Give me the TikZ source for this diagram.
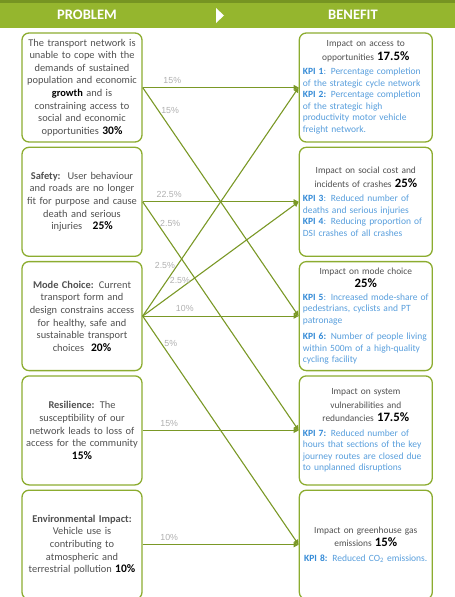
\documentclass[tikz,border=0pt]{standalone}
\usepackage{fontspec}
\setmainfont{Carlito}
\newfontfamily\pctfont{Liberation Sans}
\definecolor{HeadGreen}{RGB}{149,182,46}
\definecolor{HeadDark}{RGB}{118,148,34}
\definecolor{BoxGreen}{RGB}{140,172,48}
\definecolor{LinkGreen}{RGB}{122,152,38}
\definecolor{TextGray}{RGB}{80,80,80}
\definecolor{KpiBlue}{RGB}{88,158,220}
\definecolor{KpiBold}{RGB}{52,138,214}
\definecolor{PctGray}{RGB}{175,175,175}
\usetikzlibrary{arrows.meta, positioning}

\newcommand{\pbold}[1]{\textbf{\color{black}#1}}
\newcommand{\ppct}[1]{{\fontsize{11.5}{12.6}\selectfont\bfseries\color{black}#1}}
\newcommand{\bigpct}[1]{{\fontsize{12.8}{14}\selectfont\bfseries\color{black}#1}}
\newcommand{\kpi}[1]{{\bfseries\color{KpiBold}#1}}

\tikzset{
  problem/.style={draw=BoxGreen, rounded corners=7pt, line width=1.3pt,
    minimum width=120pt, minimum height=109pt, text width=116pt,
    inner xsep=2pt, inner ysep=1pt, align=center, text=TextGray,
    font=\fontsize{10.4}{12.6}\selectfont},
  benefit/.style={draw=BoxGreen, rounded corners=7pt, line width=1.3pt,
    minimum width=133pt, minimum height=109pt, text width=126pt,
    inner xsep=3.5pt, inner ysep=0pt, align=center, text=TextGray,
    font=\fontsize{9.4}{13.5}\selectfont},
  link/.style={draw=LinkGreen, line width=1.1pt, -{Triangle[length=5pt,width=5pt]}},
  pct/.style={text=PctGray, inner sep=0.5pt, font=\pctfont\fontsize{8.8}{9}\selectfont},
  headtxt/.style={text=white, font=\fontsize{14.5}{16}\selectfont\bfseries}
}

\begin{document}
\begin{tikzpicture}[x=1pt, y=-1pt]
  \useasboundingbox (0,0) rectangle (455,597);

  % header bar
  \fill[HeadGreen] (0,0) rectangle (455,28);
  \fill[HeadDark] (0,0) rectangle (455,2.5);
  \node[headtxt] (prob) at (87,15) {PROBLEM};
  \node[headtxt] (bene) at (353,15) {BENEFIT};
  \fill[white] (216,8) -- (224,15.5) -- (216,23) -- cycle;

  % problems
  \node[problem] (growth) at (82,87.5) {%
    The transport network is\\
    unable to cope with the\\
    demands of sustained\\
    population and economic\\
    \pbold{growth} and is\\
    constraining access to\\
    social and economic\\
    opportunities \ppct{30\%}};
  \node[problem, below=4pt of growth] (safety) {%
    \textbf{Safety:}\ \ User behaviour\\
    and roads are no longer\\
    fit for purpose and cause\\
    death and serious\\
    injuries\ \ \ \ppct{25\%}};
  \node[problem, below=4pt of safety] (mode) {%
    \textbf{Mode Choice:} Current\\
    transport form and\\
    design constrains access\\
    for healthy, safe and\\
    sustainable transport\\
    choices\ \ \ppct{20\%}};
  \node[problem, below=4pt of mode] (resil) {%
    \textbf{Resilience:} The\\
    susceptibility of our\\
    network leads to loss of\\
    access for the community\\
    \ppct{15\%}};
  \node[problem, below=4pt of resil] (envir) {%
    \textbf{Environmental Impact:}\\
    Vehicle use is\\
    contributing to\\
    atmospheric and\\
    terrestrial pollution \ppct{10\%}};

  % benefits
  \node[benefit, right=156pt of growth] (access) {%
    Impact on access to\\
    opportunities \bigpct{17.5\%}\par\vspace{3pt}
    {\raggedright\color{KpiBlue}\fontsize{9.5}{11.5}\selectfont
    \kpi{KPI 1}: Percentage completion\\
    of the strategic cycle network\\
    \kpi{KPI 2:} Percentage completion\\
    of the strategic high\\
    productivity motor vehicle\\
    freight network.\par}};
  \node[benefit, right=156pt of safety] (crash) {%
    Impact on social cost and\\
    incidents of crashes \bigpct{25\%}\par\vspace{3pt}
    {\raggedright\color{KpiBlue}\fontsize{9.5}{11.5}\selectfont
    \kpi{KPI 3}: Reduced number of\\
    deaths and serious injuries\\
    \kpi{KPI 4}: Reducing proportion of\\
    DSI crashes of all crashes\par}};
  \node[benefit, right=156pt of mode] (choice) {%
    Impact on mode choice\\
    \bigpct{25\%}\par\vspace{1pt}
    {\raggedright\color{KpiBlue}\fontsize{9.5}{11.5}\selectfont
    \kpi{KPI 5}: Increased mode-share of\\
    pedestrians, cyclists and PT\\
    patronage\par\vspace{5pt}
    \kpi{KPI 6:} Number of people living\\
    within 500m of a high-quality\\
    cycling facility\par}};
  \node[benefit, right=156pt of resil] (vulner) {%
    Impact on system\\
    vulnerabilities and\\
    redundancies \bigpct{17.5\%}\par\vspace{3pt}
    {\raggedright\color{KpiBlue}\fontsize{9.5}{11.5}\selectfont
    \kpi{KPI 7:} Reduced number of\\
    hours that sections of the key\\
    journey routes are closed due\\
    to unplanned disruptions\par}};
  \node[benefit, right=156pt of envir] (ghg) {%
    Impact on greenhouse gas\\
    emissions \bigpct{15\%}\par\vspace{3pt}
    {\color{KpiBlue}\fontsize{9.5}{11.5}\selectfont
    \kpi{KPI 8:} Reduced CO\textsubscript{2} emissions.\par}};

  % weighted links
  \draw[link] (growth.east) -- node[pct, pos=0.19, above=3pt] {15\%} (access.west);
  \draw[link] (growth.east) -- node[pct, pos=0.1, right=2pt] {15\%} (choice.west |- mode.east);
  \draw[link] (safety.east) -- node[pct, pos=0.17, above=3pt] {22.5\%} (crash.west);
  \draw[link] (safety.east) -- node[pct, pos=0.093, right=2pt] {2.5\%} (vulner.west);
  \draw[link] (mode.east) -- node[pct, pos=0.22, left=1pt] {2.5\%} (access.west);
  \draw[link] (mode.east) -- node[pct, pos=0.31, left=0pt] {2.5\%} (crash.west);
  \draw[link] (mode.east) -- node[pct, pos=0.27, above=3pt] {10\%} (choice.west |- mode.east);
  \draw[link] (mode.east) -- node[pct, pos=0.12, right=2pt] {5\%} (ghg.west);
  \draw[link] (resil.east) -- node[pct, pos=0.17, above=3pt] {15\%} (vulner.west);
  \draw[link] (envir.east) -- node[pct, pos=0.17, above=3pt] {10\%} (ghg.west);
\end{tikzpicture}
\end{document}
